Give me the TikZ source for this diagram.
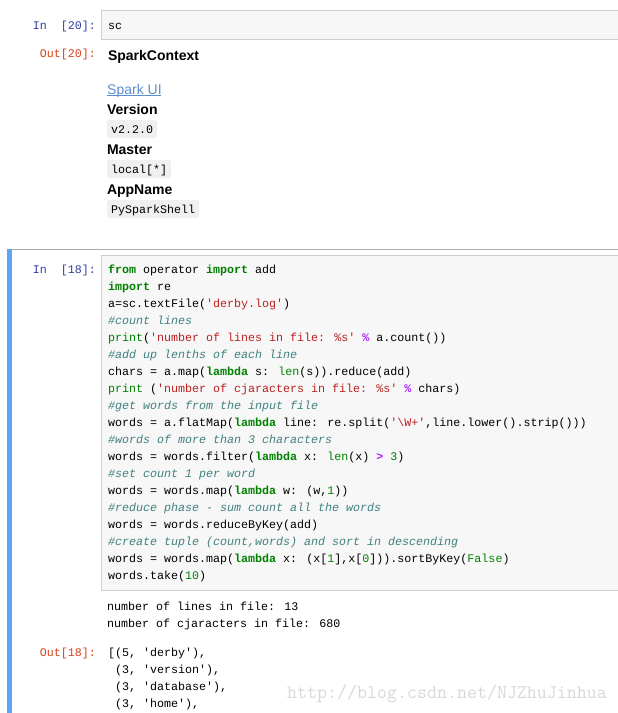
\documentclass[tikz,border=0pt]{standalone}
\usepackage{fontspec}
\setmainfont{Liberation Sans}
\newfontfamily\codefont{Liberation Mono}
\newfontfamily\markfont{Latin Modern Mono}
\definecolor{cellbg}{HTML}{F7F7F7}
\definecolor{cellline}{HTML}{CFCFCF}
\definecolor{promptin}{HTML}{303F9F}
\definecolor{promptout}{HTML}{D84315}
\definecolor{barblue}{HTML}{5AA7F5}
\definecolor{chipbg}{HTML}{F0F0F0}
\definecolor{kwgreen}{HTML}{008000}
\definecolor{strred}{HTML}{BA2121}
\definecolor{cmteal}{HTML}{408080}
\definecolor{oppurple}{HTML}{AA22FF}
\definecolor{linkblue}{HTML}{5B8FD0}
\definecolor{wmgrey}{HTML}{D8D8D4}
\newcommand{\kw}[1]{\textcolor{kwgreen}{\textbf{#1}}}
\newcommand{\bi}[1]{\textcolor{kwgreen}{#1}}
\newcommand{\cstr}[1]{\textcolor{strred}{#1}}
\newcommand{\cmt}[1]{\textcolor{cmteal}{\textit{#1}}}
\newcommand{\opr}[1]{\textcolor{oppurple}{\textbf{#1}}}
\tikzset{
  x=1pt,y=-1pt,
  codeline/.style={anchor=base west,inner sep=0pt,outer sep=0pt,text=black,font=\codefont\fontsize{11.67}{14}\selectfont},
  promptlabel/.style={anchor=base east,inner sep=0pt,outer sep=0pt,font=\codefont\fontsize{11.67}{14}\selectfont},
  headlabel/.style={anchor=base west,inner sep=0pt,outer sep=0pt,font=\bfseries\fontsize{14}{16}\selectfont},
  cellbox/.style={fill=cellbg,draw=cellline,line width=0.9pt},
  chipbox/.style={fill=chipbg,draw=none,rounded corners=1.5pt},
}
\begin{document}
\begin{tikzpicture}
\useasboundingbox (0,0) rectangle (618,713);
\fill[white] (0,0) rectangle (618,713);
% first cell
\draw[cellbox] (101.5,10.5) -- (625,10.5) -- (625,39.5) -- (101.5,39.5) -- cycle;
\node[promptlabel,text=promptin] (in20) at (96,29) {In\ \ [20]:};
\node[codeline] (sc) at (108,29) {sc};
\node[promptlabel,text=promptout] (out20) at (96,57) {Out[20]:};
\node[headlabel] (sparkctx) at (108,60) {SparkContext};
\node[anchor=base west,inner sep=0pt,text=linkblue,font=\fontsize{14}{16}\selectfont] (sparkui) at (107,94) {Spark UI};
\draw[linkblue,line width=0.7pt] (107,95.5) -- (161,95.5);
\node[headlabel] (version) at (107,114) {Version};
\fill[chipbox] (107,120) rectangle (157,138);
\node[codeline] (vval) at (111,133.3) {v2.2.0};
\node[headlabel] (master) at (107,154) {Master};
\fill[chipbox] (107,160) rectangle (171,178);
\node[codeline] (mval) at (111,173.3) {local[*]};
\node[headlabel] (appname) at (107,194) {AppName};
\fill[chipbox] (107,200) rectangle (199,218);
\node[codeline] (aval) at (111,213.6) {PySparkShell};
% second cell
\draw[color=black!33,line width=0.9pt] (7,249.5) -- (618,249.5);
\fill[barblue] (7,249) rectangle (12,713);
\draw[cellbox] (101.5,255.5) -- (625,255.5) -- (625,590.5) -- (101.5,590.5) -- cycle;
\node[promptlabel,text=promptin] (in18) at (96,273) {In\ \ [18]:};
\node[codeline] (l1) at (108,273.5) {\kw{from} operator \kw{import} add};
\node[codeline] (l2) at (108,290.5) {\kw{import} re};
\node[codeline] (l3) at (108,307.5) {a=sc.textFile(\cstr{'derby.log'})};
\node[codeline] (l4) at (108,324.5) {\cmt{\#count lines}};
\node[codeline] (l5) at (108,341.5) {\bi{print}(\cstr{'number of lines in file: \%s'} \opr{\%} a.count())};
\node[codeline] (l6) at (108,358.5) {\cmt{\#add up lenths of each line}};
\node[codeline] (l7) at (108,375.5) {chars = a.map(\kw{lambda} s: \bi{len}(s)).reduce(add)};
\node[codeline] (l8) at (108,392.5) {\bi{print} (\cstr{'number of cjaracters in file: \%s'} \opr{\%} chars)};
\node[codeline] (l9) at (108,409.5) {\cmt{\#get words from the input file}};
\node[codeline] (l10) at (108,426.5) {words = a.flatMap(\kw{lambda} line: re.split(\cstr{'\textbackslash W+'},line.lower().strip()))};
\node[codeline] (l11) at (108,443.5) {\cmt{\#words of more than 3 characters}};
\node[codeline] (l12) at (108,460.5) {words = words.filter(\kw{lambda} x: \bi{len}(x) \opr{>} \bi{3})};
\node[codeline] (l13) at (108,477.5) {\cmt{\#set count 1 per word}};
\node[codeline] (l14) at (108,494.5) {words = words.map(\kw{lambda} w: (w,\bi{1}))};
\node[codeline] (l15) at (108,511.5) {\cmt{\#reduce phase - sum count all the words}};
\node[codeline] (l16) at (108,528.5) {words = words.reduceByKey(add)};
\node[codeline] (l17) at (108,545.5) {\cmt{\#create tuple (count,words) and sort in descending}};
\node[codeline] (l18) at (108,562.5) {words = words.map(\kw{lambda} x: (x[\bi{1}],x[\bi{0}])).sortByKey(\bi{False})};
\node[codeline] (l19) at (108,579.5) {words.take(\bi{10})};
% output
\node[codeline] (o1) at (107,610) {number of lines in file: 13};
\node[codeline] (o2) at (107,627) {number of cjaracters in file: 680};
\node[promptlabel,text=promptout] (out18) at (96,656) {Out[18]:};
\node[codeline] (r1) at (108,656.5) {[(5, 'derby'),};
\node[codeline] (r2) at (108,673.5) {\ (3, 'version'),};
\node[codeline] (r3) at (108,690.5) {\ (3, 'database'),};
\node[codeline] (r4) at (108,707.5) {\ (3, 'home'),};
% watermark
\node[anchor=base west,inner sep=0pt,text=wmgrey,font=\markfont\fontsize{19.4}{22}\selectfont] (mark) at (287,698) {http://blog.csdn.net/NJZhuJinhua};
\end{tikzpicture}
\end{document}
